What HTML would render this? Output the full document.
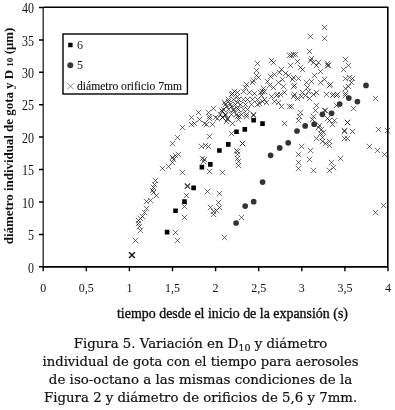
<!DOCTYPE html>
<html><head><meta charset="utf-8"><style>
html,body{margin:0;padding:0;background:#fff;width:395px;height:410px;overflow:hidden}
svg{display:block}
</style></head><body>
<svg width="395" height="410" viewBox="0 0 395 410">
<path d="M43.2,7.2H387.8V266.8" fill="none" stroke="#000" stroke-width="1.6"/>
<path d="M43.2,7.2V266.8" fill="none" stroke="#222" stroke-width="1.3"/>
<path d="M42.7,266.8H387.8" fill="none" stroke="#000" stroke-width="1.7"/>
<path d="M39,266.8H43.2M39,234.4H43.2M39,202H43.2M39,169.6H43.2M39,137.1H43.2M39,104.7H43.2M39,72.3H43.2M39,39.9H43.2M39,7.5H43.2" stroke="#000" stroke-width="1.5"/>
<path d="M43.2,266.8V271.3M86.3,266.8V271.3M129.4,266.8V271.3M172.5,266.8V271.3M215.6,266.8V271.3M258.7,266.8V271.3M301.8,266.8V271.3M344.9,266.8V271.3M388,266.8V271.3" stroke="#000" stroke-width="1.4"/>
<g font-family="Liberation Serif, serif" font-size="12" text-anchor="end" fill="#111"><text transform="translate(34,272.5) scale(1,1.14)">0</text><text transform="translate(34,240.1) scale(1,1.14)">5</text><text transform="translate(34,207.7) scale(1,1.14)">10</text><text transform="translate(34,175.3) scale(1,1.14)">15</text><text transform="translate(34,142.8) scale(1,1.14)">20</text><text transform="translate(34,110.4) scale(1,1.14)">25</text><text transform="translate(34,78) scale(1,1.14)">30</text><text transform="translate(34,45.6) scale(1,1.14)">35</text><text transform="translate(34,13.2) scale(1,1.14)">40</text></g>
<g font-family="Liberation Serif, serif" font-size="12" text-anchor="middle" fill="#111"><text x="43.2" y="292">0</text><text x="86.3" y="292">0,5</text><text x="129.4" y="292">1</text><text x="172.5" y="292">1,5</text><text x="215.6" y="292">2</text><text x="258.7" y="292">2,5</text><text x="301.8" y="292">3</text><text x="344.9" y="292">3,5</text><text x="388" y="292">4</text></g>
<g fill="none" stroke="#000" stroke-opacity="0.56" stroke-width="1"><path d="M132.8,237.8l5.4,5.4m0,-5.4l-5.4,5.4"/><path d="M137.8,227.8l5.4,5.4m0,-5.4l-5.4,5.4"/><path d="M136.8,223.8l5.4,5.4m0,-5.4l-5.4,5.4"/><path d="M135.8,220.8l5.4,5.4m0,-5.4l-5.4,5.4"/><path d="M135.8,217.8l5.4,5.4m0,-5.4l-5.4,5.4"/><path d="M137.8,215.8l5.4,5.4m0,-5.4l-5.4,5.4"/><path d="M139.8,213.8l5.4,5.4m0,-5.4l-5.4,5.4"/><path d="M141.8,209.8l5.4,5.4m0,-5.4l-5.4,5.4"/><path d="M143.8,205.8l5.4,5.4m0,-5.4l-5.4,5.4"/><path d="M143.8,198.8l5.4,5.4m0,-5.4l-5.4,5.4"/><path d="M147.8,197.8l5.4,5.4m0,-5.4l-5.4,5.4"/><path d="M152.8,177.8l5.4,5.4m0,-5.4l-5.4,5.4"/><path d="M151.8,181.8l5.4,5.4m0,-5.4l-5.4,5.4"/><path d="M150.8,184.8l5.4,5.4m0,-5.4l-5.4,5.4"/><path d="M149.8,187.8l5.4,5.4m0,-5.4l-5.4,5.4"/><path d="M150.8,189.8l5.4,5.4m0,-5.4l-5.4,5.4"/><path d="M153.8,192.8l5.4,5.4m0,-5.4l-5.4,5.4"/><path d="M175.8,151.8l5.4,5.4m0,-5.4l-5.4,5.4"/><path d="M172.8,152.8l5.4,5.4m0,-5.4l-5.4,5.4"/><path d="M169.8,154.8l5.4,5.4m0,-5.4l-5.4,5.4"/><path d="M170.8,156.8l5.4,5.4m0,-5.4l-5.4,5.4"/><path d="M169.8,159.8l5.4,5.4m0,-5.4l-5.4,5.4"/><path d="M165.8,163.8l5.4,5.4m0,-5.4l-5.4,5.4"/><path d="M159.8,165.8l5.4,5.4m0,-5.4l-5.4,5.4"/><path d="M169.8,140.8l5.4,5.4m0,-5.4l-5.4,5.4"/><path d="M174.8,134.8l5.4,5.4m0,-5.4l-5.4,5.4"/><path d="M179.8,124.8l5.4,5.4m0,-5.4l-5.4,5.4"/><path d="M179.8,169.8l5.4,5.4m0,-5.4l-5.4,5.4"/><path d="M188.8,114.8l5.4,5.4m0,-5.4l-5.4,5.4"/><path d="M188.8,121.8l5.4,5.4m0,-5.4l-5.4,5.4"/><path d="M191.8,120.8l5.4,5.4m0,-5.4l-5.4,5.4"/><path d="M172.8,229.8l5.4,5.4m0,-5.4l-5.4,5.4"/><path d="M174.8,237.8l5.4,5.4m0,-5.4l-5.4,5.4"/><path d="M181.8,214.8l5.4,5.4m0,-5.4l-5.4,5.4"/><path d="M181.8,203.8l5.4,5.4m0,-5.4l-5.4,5.4"/><path d="M183.8,192.8l5.4,5.4m0,-5.4l-5.4,5.4"/><path d="M207.8,204.8l5.4,5.4m0,-5.4l-5.4,5.4"/><path d="M215.8,199.8l5.4,5.4m0,-5.4l-5.4,5.4"/><path d="M216.8,204.8l5.4,5.4m0,-5.4l-5.4,5.4"/><path d="M213.8,207.8l5.4,5.4m0,-5.4l-5.4,5.4"/><path d="M210.8,208.8l5.4,5.4m0,-5.4l-5.4,5.4"/><path d="M210.8,211.8l5.4,5.4m0,-5.4l-5.4,5.4"/><path d="M221.8,234.8l5.4,5.4m0,-5.4l-5.4,5.4"/><path d="M238.8,214.8l5.4,5.4m0,-5.4l-5.4,5.4"/><path d="M204.8,188.8l5.4,5.4m0,-5.4l-5.4,5.4"/><path d="M216.8,190.8l5.4,5.4m0,-5.4l-5.4,5.4"/><path d="M206.8,133.8l5.4,5.4m0,-5.4l-5.4,5.4"/><path d="M198.8,143.8l5.4,5.4m0,-5.4l-5.4,5.4"/><path d="M202.8,142.8l5.4,5.4m0,-5.4l-5.4,5.4"/><path d="M205.8,143.8l5.4,5.4m0,-5.4l-5.4,5.4"/><path d="M239.8,140.8l5.4,5.4m0,-5.4l-5.4,5.4"/><path d="M233.8,147.8l5.4,5.4m0,-5.4l-5.4,5.4"/><path d="M234.8,151.8l5.4,5.4m0,-5.4l-5.4,5.4"/><path d="M234.8,155.8l5.4,5.4m0,-5.4l-5.4,5.4"/><path d="M235.8,158.8l5.4,5.4m0,-5.4l-5.4,5.4"/><path d="M235.8,162.8l5.4,5.4m0,-5.4l-5.4,5.4"/><path d="M199.8,155.8l5.4,5.4m0,-5.4l-5.4,5.4"/><path d="M201.8,156.8l5.4,5.4m0,-5.4l-5.4,5.4"/><path d="M200.8,158.8l5.4,5.4m0,-5.4l-5.4,5.4"/><path d="M206.8,168.8l5.4,5.4m0,-5.4l-5.4,5.4"/><path d="M219.8,169.8l5.4,5.4m0,-5.4l-5.4,5.4"/><path d="M239.8,140.8l5.4,5.4m0,-5.4l-5.4,5.4"/><path d="M234.8,148.8l5.4,5.4m0,-5.4l-5.4,5.4"/><path d="M228.8,130.8l5.4,5.4m0,-5.4l-5.4,5.4"/><path d="M195.8,109.8l5.4,5.4m0,-5.4l-5.4,5.4"/><path d="M196.8,116.8l5.4,5.4m0,-5.4l-5.4,5.4"/><path d="M201.8,120.8l5.4,5.4m0,-5.4l-5.4,5.4"/><path d="M203.8,121.8l5.4,5.4m0,-5.4l-5.4,5.4"/><path d="M205.8,109.8l5.4,5.4m0,-5.4l-5.4,5.4"/><path d="M206.8,113.8l5.4,5.4m0,-5.4l-5.4,5.4"/><path d="M206.8,115.8l5.4,5.4m0,-5.4l-5.4,5.4"/><path d="M209.8,121.8l5.4,5.4m0,-5.4l-5.4,5.4"/><path d="M210.8,105.8l5.4,5.4m0,-5.4l-5.4,5.4"/><path d="M212.8,114.8l5.4,5.4m0,-5.4l-5.4,5.4"/><path d="M219.8,108.8l5.4,5.4m0,-5.4l-5.4,5.4"/><path d="M218.8,107.8l5.4,5.4m0,-5.4l-5.4,5.4"/><path d="M221.8,99.8l5.4,5.4m0,-5.4l-5.4,5.4"/><path d="M223.8,103.8l5.4,5.4m0,-5.4l-5.4,5.4"/><path d="M222.8,112.8l5.4,5.4m0,-5.4l-5.4,5.4"/><path d="M223.8,118.8l5.4,5.4m0,-5.4l-5.4,5.4"/><path d="M217.8,111.8l5.4,5.4m0,-5.4l-5.4,5.4"/><path d="M219.8,114.8l5.4,5.4m0,-5.4l-5.4,5.4"/><path d="M214.8,115.8l5.4,5.4m0,-5.4l-5.4,5.4"/><path d="M219.8,114.8l5.4,5.4m0,-5.4l-5.4,5.4"/><path d="M224.8,115.8l5.4,5.4m0,-5.4l-5.4,5.4"/><path d="M229.8,120.8l5.4,5.4m0,-5.4l-5.4,5.4"/><path d="M235.8,116.8l5.4,5.4m0,-5.4l-5.4,5.4"/><path d="M236.8,113.8l5.4,5.4m0,-5.4l-5.4,5.4"/><path d="M243.8,113.8l5.4,5.4m0,-5.4l-5.4,5.4"/><path d="M250.8,112.8l5.4,5.4m0,-5.4l-5.4,5.4"/><path d="M228.8,91.8l5.4,5.4m0,-5.4l-5.4,5.4"/><path d="M230.8,96.8l5.4,5.4m0,-5.4l-5.4,5.4"/><path d="M228.8,103.8l5.4,5.4m0,-5.4l-5.4,5.4"/><path d="M230.8,107.8l5.4,5.4m0,-5.4l-5.4,5.4"/><path d="M234.8,93.8l5.4,5.4m0,-5.4l-5.4,5.4"/><path d="M234.8,99.8l5.4,5.4m0,-5.4l-5.4,5.4"/><path d="M234.8,105.8l5.4,5.4m0,-5.4l-5.4,5.4"/><path d="M234.8,113.8l5.4,5.4m0,-5.4l-5.4,5.4"/><path d="M231.8,88.8l5.4,5.4m0,-5.4l-5.4,5.4"/><path d="M225.8,98.8l5.4,5.4m0,-5.4l-5.4,5.4"/><path d="M225.8,96.8l5.4,5.4m0,-5.4l-5.4,5.4"/><path d="M235.8,96.8l5.4,5.4m0,-5.4l-5.4,5.4"/><path d="M240.8,96.8l5.4,5.4m0,-5.4l-5.4,5.4"/><path d="M244.8,96.8l5.4,5.4m0,-5.4l-5.4,5.4"/><path d="M249.8,96.8l5.4,5.4m0,-5.4l-5.4,5.4"/><path d="M254.8,96.8l5.4,5.4m0,-5.4l-5.4,5.4"/><path d="M222.8,101.8l5.4,5.4m0,-5.4l-5.4,5.4"/><path d="M227.8,101.8l5.4,5.4m0,-5.4l-5.4,5.4"/><path d="M232.8,101.8l5.4,5.4m0,-5.4l-5.4,5.4"/><path d="M237.8,101.8l5.4,5.4m0,-5.4l-5.4,5.4"/><path d="M242.8,101.8l5.4,5.4m0,-5.4l-5.4,5.4"/><path d="M248.8,101.8l5.4,5.4m0,-5.4l-5.4,5.4"/><path d="M254.8,101.8l5.4,5.4m0,-5.4l-5.4,5.4"/><path d="M220.8,106.8l5.4,5.4m0,-5.4l-5.4,5.4"/><path d="M225.8,106.8l5.4,5.4m0,-5.4l-5.4,5.4"/><path d="M230.8,106.8l5.4,5.4m0,-5.4l-5.4,5.4"/><path d="M235.8,106.8l5.4,5.4m0,-5.4l-5.4,5.4"/><path d="M240.8,106.8l5.4,5.4m0,-5.4l-5.4,5.4"/><path d="M244.8,106.8l5.4,5.4m0,-5.4l-5.4,5.4"/><path d="M222.8,111.8l5.4,5.4m0,-5.4l-5.4,5.4"/><path d="M228.8,111.8l5.4,5.4m0,-5.4l-5.4,5.4"/><path d="M233.8,111.8l5.4,5.4m0,-5.4l-5.4,5.4"/><path d="M238.8,111.8l5.4,5.4m0,-5.4l-5.4,5.4"/><path d="M243.8,111.8l5.4,5.4m0,-5.4l-5.4,5.4"/><path d="M250.8,111.8l5.4,5.4m0,-5.4l-5.4,5.4"/><path d="M224.8,116.8l5.4,5.4m0,-5.4l-5.4,5.4"/><path d="M254.8,60.8l5.4,5.4m0,-5.4l-5.4,5.4"/><path d="M253.8,67.8l5.4,5.4m0,-5.4l-5.4,5.4"/><path d="M253.8,72.8l5.4,5.4m0,-5.4l-5.4,5.4"/><path d="M255.8,74.8l5.4,5.4m0,-5.4l-5.4,5.4"/><path d="M250.8,77.8l5.4,5.4m0,-5.4l-5.4,5.4"/><path d="M249.8,79.8l5.4,5.4m0,-5.4l-5.4,5.4"/><path d="M243.8,81.8l5.4,5.4m0,-5.4l-5.4,5.4"/><path d="M242.8,84.8l5.4,5.4m0,-5.4l-5.4,5.4"/><path d="M234.8,89.8l5.4,5.4m0,-5.4l-5.4,5.4"/><path d="M229.8,90.8l5.4,5.4m0,-5.4l-5.4,5.4"/><path d="M240.8,88.8l5.4,5.4m0,-5.4l-5.4,5.4"/><path d="M246.8,89.8l5.4,5.4m0,-5.4l-5.4,5.4"/><path d="M251.8,90.8l5.4,5.4m0,-5.4l-5.4,5.4"/><path d="M259.8,88.8l5.4,5.4m0,-5.4l-5.4,5.4"/><path d="M260.8,85.8l5.4,5.4m0,-5.4l-5.4,5.4"/><path d="M268.8,57.8l5.4,5.4m0,-5.4l-5.4,5.4"/><path d="M270.8,59.8l5.4,5.4m0,-5.4l-5.4,5.4"/><path d="M287.8,62.8l5.4,5.4m0,-5.4l-5.4,5.4"/><path d="M278.8,66.8l5.4,5.4m0,-5.4l-5.4,5.4"/><path d="M267.8,73.8l5.4,5.4m0,-5.4l-5.4,5.4"/><path d="M271.8,71.8l5.4,5.4m0,-5.4l-5.4,5.4"/><path d="M276.8,69.8l5.4,5.4m0,-5.4l-5.4,5.4"/><path d="M282.8,70.8l5.4,5.4m0,-5.4l-5.4,5.4"/><path d="M285.8,72.8l5.4,5.4m0,-5.4l-5.4,5.4"/><path d="M289.8,76.8l5.4,5.4m0,-5.4l-5.4,5.4"/><path d="M275.8,79.8l5.4,5.4m0,-5.4l-5.4,5.4"/><path d="M280.8,83.8l5.4,5.4m0,-5.4l-5.4,5.4"/><path d="M266.8,82.8l5.4,5.4m0,-5.4l-5.4,5.4"/><path d="M270.8,84.8l5.4,5.4m0,-5.4l-5.4,5.4"/><path d="M261.8,88.8l5.4,5.4m0,-5.4l-5.4,5.4"/><path d="M257.8,89.8l5.4,5.4m0,-5.4l-5.4,5.4"/><path d="M274.8,91.8l5.4,5.4m0,-5.4l-5.4,5.4"/><path d="M281.8,89.8l5.4,5.4m0,-5.4l-5.4,5.4"/><path d="M290.8,83.8l5.4,5.4m0,-5.4l-5.4,5.4"/><path d="M291.8,91.8l5.4,5.4m0,-5.4l-5.4,5.4"/><path d="M264.8,78.8l5.4,5.4m0,-5.4l-5.4,5.4"/><path d="M279.8,76.8l5.4,5.4m0,-5.4l-5.4,5.4"/><path d="M294.8,58.8l5.4,5.4m0,-5.4l-5.4,5.4"/><path d="M299.8,66.8l5.4,5.4m0,-5.4l-5.4,5.4"/><path d="M297.8,64.8l5.4,5.4m0,-5.4l-5.4,5.4"/><path d="M307.8,57.8l5.4,5.4m0,-5.4l-5.4,5.4"/><path d="M310.8,59.8l5.4,5.4m0,-5.4l-5.4,5.4"/><path d="M315.8,59.8l5.4,5.4m0,-5.4l-5.4,5.4"/><path d="M313.8,62.8l5.4,5.4m0,-5.4l-5.4,5.4"/><path d="M324.8,62.8l5.4,5.4m0,-5.4l-5.4,5.4"/><path d="M317.8,68.8l5.4,5.4m0,-5.4l-5.4,5.4"/><path d="M311.8,72.8l5.4,5.4m0,-5.4l-5.4,5.4"/><path d="M321.8,76.8l5.4,5.4m0,-5.4l-5.4,5.4"/><path d="M317.8,79.8l5.4,5.4m0,-5.4l-5.4,5.4"/><path d="M290.8,74.8l5.4,5.4m0,-5.4l-5.4,5.4"/><path d="M295.8,75.8l5.4,5.4m0,-5.4l-5.4,5.4"/><path d="M291.8,82.8l5.4,5.4m0,-5.4l-5.4,5.4"/><path d="M303.8,79.8l5.4,5.4m0,-5.4l-5.4,5.4"/><path d="M308.8,78.8l5.4,5.4m0,-5.4l-5.4,5.4"/><path d="M304.8,84.8l5.4,5.4m0,-5.4l-5.4,5.4"/><path d="M299.8,89.8l5.4,5.4m0,-5.4l-5.4,5.4"/><path d="M305.8,88.8l5.4,5.4m0,-5.4l-5.4,5.4"/><path d="M313.8,89.8l5.4,5.4m0,-5.4l-5.4,5.4"/><path d="M323.8,91.8l5.4,5.4m0,-5.4l-5.4,5.4"/><path d="M326.8,82.8l5.4,5.4m0,-5.4l-5.4,5.4"/><path d="M321.8,24.8l5.4,5.4m0,-5.4l-5.4,5.4"/><path d="M307.8,33.8l5.4,5.4m0,-5.4l-5.4,5.4"/><path d="M321.8,35.8l5.4,5.4m0,-5.4l-5.4,5.4"/><path d="M306.8,48.8l5.4,5.4m0,-5.4l-5.4,5.4"/><path d="M292.8,51.8l5.4,5.4m0,-5.4l-5.4,5.4"/><path d="M288.8,52.8l5.4,5.4m0,-5.4l-5.4,5.4"/><path d="M308.8,55.8l5.4,5.4m0,-5.4l-5.4,5.4"/><path d="M324.8,60.8l5.4,5.4m0,-5.4l-5.4,5.4"/><path d="M286.8,52.8l5.4,5.4m0,-5.4l-5.4,5.4"/><path d="M290.8,51.8l5.4,5.4m0,-5.4l-5.4,5.4"/><path d="M325.8,62.8l5.4,5.4m0,-5.4l-5.4,5.4"/><path d="M342.8,56.8l5.4,5.4m0,-5.4l-5.4,5.4"/><path d="M345.8,62.8l5.4,5.4m0,-5.4l-5.4,5.4"/><path d="M340.8,66.8l5.4,5.4m0,-5.4l-5.4,5.4"/><path d="M342.8,75.8l5.4,5.4m0,-5.4l-5.4,5.4"/><path d="M346.8,74.8l5.4,5.4m0,-5.4l-5.4,5.4"/><path d="M349.8,75.8l5.4,5.4m0,-5.4l-5.4,5.4"/><path d="M348.8,79.8l5.4,5.4m0,-5.4l-5.4,5.4"/><path d="M345.8,83.8l5.4,5.4m0,-5.4l-5.4,5.4"/><path d="M342.8,85.8l5.4,5.4m0,-5.4l-5.4,5.4"/><path d="M327.8,81.8l5.4,5.4m0,-5.4l-5.4,5.4"/><path d="M330.8,91.8l5.4,5.4m0,-5.4l-5.4,5.4"/><path d="M334.8,91.8l5.4,5.4m0,-5.4l-5.4,5.4"/><path d="M342.8,90.8l5.4,5.4m0,-5.4l-5.4,5.4"/><path d="M372.8,95.8l5.4,5.4m0,-5.4l-5.4,5.4"/><path d="M258.8,92.8l5.4,5.4m0,-5.4l-5.4,5.4"/><path d="M261.8,96.8l5.4,5.4m0,-5.4l-5.4,5.4"/><path d="M259.8,98.8l5.4,5.4m0,-5.4l-5.4,5.4"/><path d="M263.8,99.8l5.4,5.4m0,-5.4l-5.4,5.4"/><path d="M256.8,100.8l5.4,5.4m0,-5.4l-5.4,5.4"/><path d="M268.8,93.8l5.4,5.4m0,-5.4l-5.4,5.4"/><path d="M273.8,92.8l5.4,5.4m0,-5.4l-5.4,5.4"/><path d="M277.8,91.8l5.4,5.4m0,-5.4l-5.4,5.4"/><path d="M271.8,98.8l5.4,5.4m0,-5.4l-5.4,5.4"/><path d="M275.8,99.8l5.4,5.4m0,-5.4l-5.4,5.4"/><path d="M278.8,103.8l5.4,5.4m0,-5.4l-5.4,5.4"/><path d="M286.8,103.8l5.4,5.4m0,-5.4l-5.4,5.4"/><path d="M290.8,93.8l5.4,5.4m0,-5.4l-5.4,5.4"/><path d="M294.8,95.8l5.4,5.4m0,-5.4l-5.4,5.4"/><path d="M281.8,120.8l5.4,5.4m0,-5.4l-5.4,5.4"/><path d="M295.8,117.8l5.4,5.4m0,-5.4l-5.4,5.4"/><path d="M298.8,93.8l5.4,5.4m0,-5.4l-5.4,5.4"/><path d="M302.8,92.8l5.4,5.4m0,-5.4l-5.4,5.4"/><path d="M306.8,95.8l5.4,5.4m0,-5.4l-5.4,5.4"/><path d="M310.8,91.8l5.4,5.4m0,-5.4l-5.4,5.4"/><path d="M288.8,103.8l5.4,5.4m0,-5.4l-5.4,5.4"/><path d="M297.8,109.8l5.4,5.4m0,-5.4l-5.4,5.4"/><path d="M296.8,113.8l5.4,5.4m0,-5.4l-5.4,5.4"/><path d="M313.8,102.8l5.4,5.4m0,-5.4l-5.4,5.4"/><path d="M312.8,107.8l5.4,5.4m0,-5.4l-5.4,5.4"/><path d="M310.8,113.8l5.4,5.4m0,-5.4l-5.4,5.4"/><path d="M309.8,116.8l5.4,5.4m0,-5.4l-5.4,5.4"/><path d="M321.8,107.8l5.4,5.4m0,-5.4l-5.4,5.4"/><path d="M324.8,115.8l5.4,5.4m0,-5.4l-5.4,5.4"/><path d="M316.8,122.8l5.4,5.4m0,-5.4l-5.4,5.4"/><path d="M318.8,126.8l5.4,5.4m0,-5.4l-5.4,5.4"/><path d="M315.8,124.8l5.4,5.4m0,-5.4l-5.4,5.4"/><path d="M320.8,129.8l5.4,5.4m0,-5.4l-5.4,5.4"/><path d="M317.8,130.8l5.4,5.4m0,-5.4l-5.4,5.4"/><path d="M313.8,135.8l5.4,5.4m0,-5.4l-5.4,5.4"/><path d="M319.8,134.8l5.4,5.4m0,-5.4l-5.4,5.4"/><path d="M319.8,138.8l5.4,5.4m0,-5.4l-5.4,5.4"/><path d="M322.8,140.8l5.4,5.4m0,-5.4l-5.4,5.4"/><path d="M326.8,138.8l5.4,5.4m0,-5.4l-5.4,5.4"/><path d="M326.8,142.8l5.4,5.4m0,-5.4l-5.4,5.4"/><path d="M326.8,117.8l5.4,5.4m0,-5.4l-5.4,5.4"/><path d="M331.8,117.8l5.4,5.4m0,-5.4l-5.4,5.4"/><path d="M329.8,121.8l5.4,5.4m0,-5.4l-5.4,5.4"/><path d="M344.8,119.8l5.4,5.4m0,-5.4l-5.4,5.4"/><path d="M341.8,128.8l5.4,5.4m0,-5.4l-5.4,5.4"/><path d="M349.8,128.8l5.4,5.4m0,-5.4l-5.4,5.4"/><path d="M341.8,135.8l5.4,5.4m0,-5.4l-5.4,5.4"/><path d="M344.8,135.8l5.4,5.4m0,-5.4l-5.4,5.4"/><path d="M298.8,143.8l5.4,5.4m0,-5.4l-5.4,5.4"/><path d="M295.8,151.8l5.4,5.4m0,-5.4l-5.4,5.4"/><path d="M295.8,159.8l5.4,5.4m0,-5.4l-5.4,5.4"/><path d="M295.8,165.8l5.4,5.4m0,-5.4l-5.4,5.4"/><path d="M307.8,147.8l5.4,5.4m0,-5.4l-5.4,5.4"/><path d="M306.8,156.8l5.4,5.4m0,-5.4l-5.4,5.4"/><path d="M310.8,167.8l5.4,5.4m0,-5.4l-5.4,5.4"/><path d="M337.8,155.8l5.4,5.4m0,-5.4l-5.4,5.4"/><path d="M328.8,159.8l5.4,5.4m0,-5.4l-5.4,5.4"/><path d="M330.8,164.8l5.4,5.4m0,-5.4l-5.4,5.4"/><path d="M326.8,167.8l5.4,5.4m0,-5.4l-5.4,5.4"/><path d="M329.8,92.8l5.4,5.4m0,-5.4l-5.4,5.4"/><path d="M333.8,92.8l5.4,5.4m0,-5.4l-5.4,5.4"/><path d="M342.8,92.8l5.4,5.4m0,-5.4l-5.4,5.4"/><path d="M333.8,102.8l5.4,5.4m0,-5.4l-5.4,5.4"/><path d="M350.8,105.8l5.4,5.4m0,-5.4l-5.4,5.4"/><path d="M322.8,107.8l5.4,5.4m0,-5.4l-5.4,5.4"/><path d="M344.8,119.8l5.4,5.4m0,-5.4l-5.4,5.4"/><path d="M341.8,127.8l5.4,5.4m0,-5.4l-5.4,5.4"/><path d="M375.8,126.8l5.4,5.4m0,-5.4l-5.4,5.4"/><path d="M384.8,127.8l5.4,5.4m0,-5.4l-5.4,5.4"/><path d="M366.8,143.8l5.4,5.4m0,-5.4l-5.4,5.4"/><path d="M374.8,147.8l5.4,5.4m0,-5.4l-5.4,5.4"/><path d="M381.8,151.8l5.4,5.4m0,-5.4l-5.4,5.4"/><path d="M380.8,202.8l5.4,5.4m0,-5.4l-5.4,5.4"/><path d="M372.8,209.8l5.4,5.4m0,-5.4l-5.4,5.4"/></g>
<path d="M129,252.3l5.8,5.8m0,-5.8l-5.8,5.8" fill="none" stroke="#111" stroke-width="1.4"/>
<path d="M184.8,183.5l5.4,5.4m0,-5.4l-5.4,5.4" fill="none" stroke="#333" stroke-width="1.1"/>
<path d="M164.8,229.8h4.6v4.6h-4.6zM173.2,208.5h4.6v4.6h-4.6zM191.3,185.6h4.6v4.6h-4.6zM182.2,199.3h4.6v4.6h-4.6zM226,142.1h4.6v4.6h-4.6zM217.1,148.2h4.6v4.6h-4.6zM208,162.1h4.6v4.6h-4.6zM199.6,164.8h4.6v4.6h-4.6zM234.2,129.5h4.6v4.6h-4.6zM251.3,117.9h4.6v4.6h-4.6zM260.2,121.3h4.6v4.6h-4.6zM242.5,127.1h4.6v4.6h-4.6z" fill="#000"/>
<g fill="#333"><circle cx="253.7" cy="201.7" r="2.85"/><circle cx="245.2" cy="206.1" r="2.85"/><circle cx="236.1" cy="223" r="2.85"/><circle cx="262.6" cy="182.1" r="2.85"/><circle cx="270.6" cy="155.3" r="2.85"/><circle cx="279.7" cy="147.9" r="2.85"/><circle cx="288.2" cy="142.8" r="2.85"/><circle cx="297" cy="131" r="2.85"/><circle cx="305.2" cy="125.9" r="2.85"/><circle cx="314.2" cy="124.2" r="2.85"/><circle cx="322.4" cy="114.3" r="2.85"/><circle cx="331.6" cy="113.3" r="2.85"/><circle cx="339.7" cy="104" r="2.85"/><circle cx="348.8" cy="98.1" r="2.85"/><circle cx="357.4" cy="101.6" r="2.85"/><circle cx="366" cy="85.4" r="2.85"/></g>
<rect x="63" y="34" width="124.4" height="60" fill="#fff" stroke="#000" stroke-width="1.4"/>
<rect x="68.2" y="42.8" width="4.4" height="4.4" fill="#000"/>
<circle cx="70.3" cy="65.2" r="3" fill="#3a3a3a"/>
<path d="M67.5,83.2l6,6m0,-6l-6,6" stroke="#777" stroke-width="0.9" fill="none"/>
<g font-family="Liberation Serif, serif" font-size="12" fill="#111"><text x="77" y="49">6</text><text x="77" y="69.3">5</text><text x="77" y="89.6" font-size="13" stroke="#111" stroke-width="0.15" textLength="105" lengthAdjust="spacingAndGlyphs">diámetro orificio 7mm</text></g>
<text x="117" y="317.8" font-family="Liberation Serif, serif" font-size="14" fill="#111" stroke="#111" stroke-width="0.35" textLength="231" lengthAdjust="spacingAndGlyphs">tiempo desde el inicio de la expansión (s)</text>
<text transform="translate(12.8,244.2) rotate(-90)" x="0" y="0" font-family="Liberation Serif, serif" font-weight="bold" font-size="12.8" fill="#111" textLength="216.5" lengthAdjust="spacingAndGlyphs">diámetro individual de gota y D <tspan font-size="9">10</tspan> (μm)</text>
<g font-family="DejaVu Serif, serif" font-size="13.3" fill="#111" stroke="#111" stroke-width="0.2" text-anchor="middle"><text x="200.6" y="347.8">Figura 5. Variación en D<tspan font-size="9.5" dy="3.5">10</tspan><tspan dy="-3.5"> y diámetro</tspan></text><text x="200.6" y="365.6" textLength="316" lengthAdjust="spacingAndGlyphs">individual de gota con el tiempo para aerosoles</text><text x="200.6" y="384.3" textLength="303.5" lengthAdjust="spacingAndGlyphs">de iso-octano a las mismas condiciones de la</text><text x="200.6" y="402.2">Figura 2 y diámetro de orificios de 5,6 y 7mm.</text></g>
</svg>
</body></html>
